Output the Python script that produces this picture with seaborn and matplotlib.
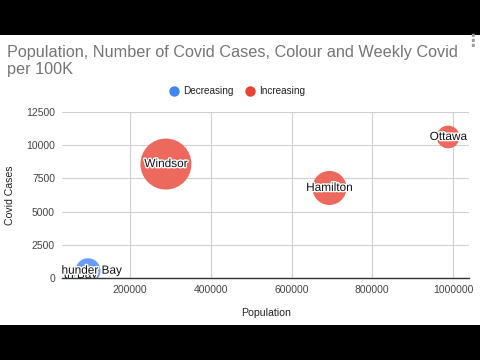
import matplotlib
matplotlib.use("Agg")
import matplotlib.pyplot as plt
import matplotlib.patheffects as pe
from matplotlib.lines import Line2D
from matplotlib.patches import Rectangle
import seaborn as sns
import pandas as pd

# ---- data ----
cities = ["North Bay", "Thunder Bay", "Windsor", "Hamilton", "Ottawa"]
population = [54000, 96000, 289000, 694000, 988000]
covid_cases = [225, 550, 8580, 6780, 10620]
trend = ["Decreasing", "Decreasing", "Increasing", "Increasing", "Increasing"]
weekly_per_100k = [20, 75, 160, 105, 68]
x_ticks = [200000, 400000, 600000, 800000, 1000000]
y_ticks = [0, 2500, 5000, 7500, 10000, 12500]

df = pd.DataFrame({"City": cities, "Population": population,
                   "Covid Cases": covid_cases, "Colour": trend,
                   "Weekly": weekly_per_100k})

palette = {"Decreasing": "#689DF6", "Increasing": "#EE695D"}

# bubble radius (px) linear in value, like Google bubble charts
vmin, vmax = min(weekly_per_100k), max(weekly_per_100k)
rmin, rmax = 4.0, 25.5
def area(v):
    r = rmin + (v - vmin) / (vmax - vmin) * (rmax - rmin)
    return (2 * r * 0.72) ** 2
sizes = {v: area(v) for v in weekly_per_100k}

sns.set_theme(style="white")
plt.rcParams["font.family"] = ["Liberation Sans", "DejaVu Sans"]

fig = plt.figure(figsize=(4.8, 3.6), dpi=100, facecolor="black")
fig.patches.append(Rectangle((0, 35 / 360), 1, 290 / 360, transform=fig.transFigure,
                             facecolor="white", edgecolor="none", zorder=-10))

ax = fig.add_axes([62 / 480, (360 - 278) / 360, (469 - 62) / 480, (278 - 112) / 360])
ax.set_facecolor("white")

sns.scatterplot(data=df, x="Population", y="Covid Cases", hue="Colour",
                size="Weekly", sizes=sizes, palette=palette, legend=False,
                edgecolor="none", alpha=1, ax=ax, zorder=3)

for c, x, y in zip(cities, population, covid_cases):
    t = ax.text(x, y, c, ha="center", va="center", fontsize=8.5, color="#111111",
                clip_on=True, zorder=5)
    t.set_path_effects([pe.withStroke(linewidth=2, foreground="white")])

ax.set_xlim(31600, 1039600)
ax.set_ylim(0, 12500)
ax.set_xticks(x_ticks)
ax.set_xticklabels([str(v) for v in x_ticks])
ax.set_yticks(y_ticks)
ax.set_yticklabels([str(v) for v in y_ticks])
ax.grid(True, color="#d0d0d0", linewidth=0.8)
ax.set_axisbelow(True)
for s in ["top", "right", "left"]:
    ax.spines[s].set_visible(False)
ax.spines["bottom"].set_color("#333333")
ax.spines["bottom"].set_linewidth(1.0)
ax.spines["bottom"].set_zorder(6)
ax.tick_params(axis="both", length=0, labelsize=7.5, colors="#444444")
ax.tick_params(axis="x", pad=5)
ax.tick_params(axis="y", pad=5)
ax.set_xlabel("Population", fontsize=7.6, color="#222222")
ax.set_ylabel("Covid Cases", fontsize=7.6, color="#222222")
ax.xaxis.set_label_coords((266 - 62) / 407, (278 - 313) / 166)
ax.yaxis.set_label_coords((10 - 62) / 407, (278 - 195) / 166)
ax.yaxis.label.set_va("center")
ax.xaxis.label.set_va("center")

fig.text(7 / 480, (360 - 61) / 360,
         "Population, Number of Covid Cases, Colour and Weekly Covid\nper 100K",
         ha="left", va="center", fontsize=11.7, color="#757575", linespacing=1.2)
fig.text(472 / 480, (360 - 41) / 360, "\u22ee", ha="center", va="center",
         fontsize=12, color="#9e9e9e", family="DejaVu Sans", fontweight="bold")

handles = [Line2D([0], [0], marker="o", linestyle="", markersize=7.5,
                  markerfacecolor="#4285F4", markeredgecolor="none"),
           Line2D([0], [0], marker="o", linestyle="", markersize=7.5,
                  markerfacecolor="#EA4335", markeredgecolor="none")]
fig.legend(handles, ["Decreasing", "Increasing"], loc="center",
           bbox_to_anchor=(237 / 480, (360 - 91) / 360), ncol=2, frameon=False,
           fontsize=7.2, handlelength=1.0, handletextpad=0.4, columnspacing=1.1,
           labelcolor="#222222")

fig.savefig("out.png", dpi=100, facecolor=fig.get_facecolor())
